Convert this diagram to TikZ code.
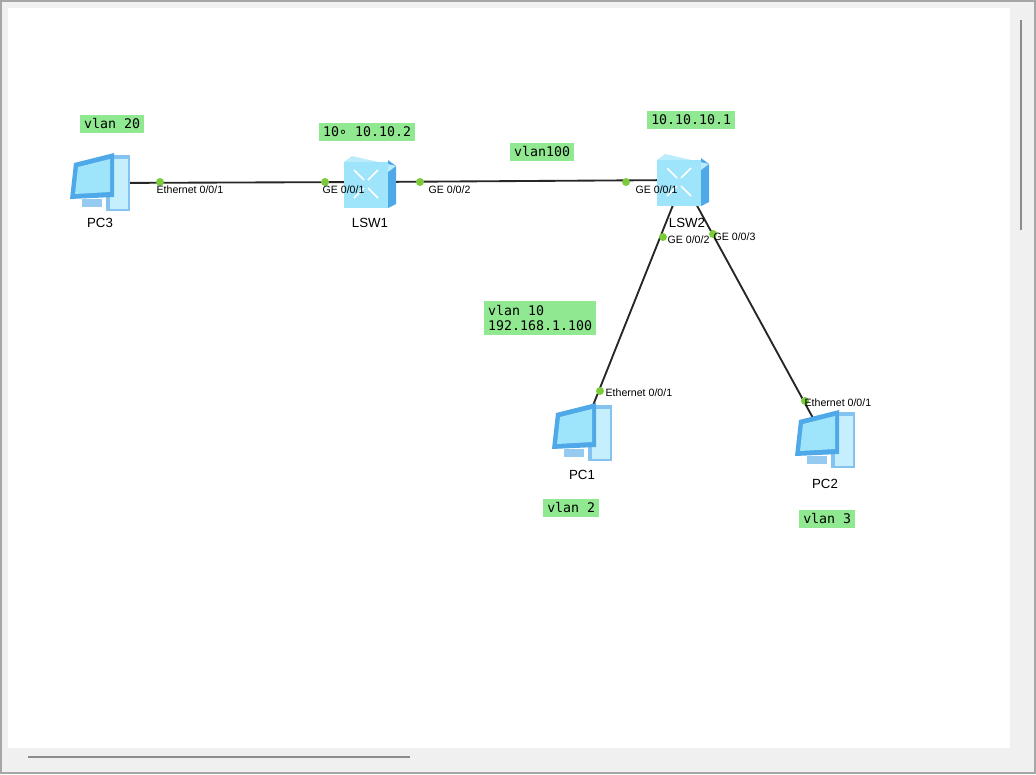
\documentclass[tikz,border=0pt]{standalone}
\usepackage{fontspec}
\setmainfont{Liberation Sans}
\newfontfamily\monofont{DejaVu Sans Mono}
\usetikzlibrary{positioning, calc, backgrounds}
\definecolor{tagbg}{HTML}{90E890}
\definecolor{portdot}{HTML}{7CCB3A}
\definecolor{iconblue}{HTML}{9EE4FA}
\definecolor{icondark}{HTML}{4FA8E8}

\begin{document}
\begin{tikzpicture}[x=0.0265cm, y=-0.0265cm,
        tag/.style={fill=tagbg, font=\monofont, inner sep=3pt, align=left},
        port/.style={font=\footnotesize, inner sep=1pt},
        dev/.style={font=\normalsize},
        dot/.style={circle, fill=portdot, inner sep=0pt, minimum size=6pt},
        link/.style={draw, line width=1.4pt, black!85},
        pc/.style={minimum width=62, minimum height=58, inner sep=0pt,
          path picture={
            \fill[icondark!70] ($(path picture bounding box.center)+(6,-28)$) rectangle ($(path picture bounding box.center)+(30,28)$);
            \fill[iconblue!60] ($(path picture bounding box.center)+(10,-24)$) rectangle ($(path picture bounding box.center)+(28,26)$);
            \fill[icondark] ($(path picture bounding box.center)+(-26,-20)$) -- ($(path picture bounding box.center)+(14,-30)$) -- ($(path picture bounding box.center)+(14,14)$) -- ($(path picture bounding box.center)+(-30,16)$) -- cycle;
            \fill[iconblue] ($(path picture bounding box.center)+(-22,-16)$) -- ($(path picture bounding box.center)+(10,-24)$) -- ($(path picture bounding box.center)+(10,9)$) -- ($(path picture bounding box.center)+(-25,11)$) -- cycle;
            \fill[icondark!60] ($(path picture bounding box.center)+(-18,16)$) rectangle ($(path picture bounding box.center)+(2,24)$);}},
        switch/.style={minimum width=56, minimum height=52, inner sep=0pt,
          path picture={
            \fill[icondark] ($(path picture bounding box.center)+(18,-22)$) -- ($(path picture bounding box.center)+(26,-16)$) -- ($(path picture bounding box.center)+(26,22)$) -- ($(path picture bounding box.center)+(18,26)$) -- cycle;
            \fill[iconblue!70] ($(path picture bounding box.center)+(-26,-20)$) -- ($(path picture bounding box.center)+(-18,-26)$) -- ($(path picture bounding box.center)+(26,-16)$) -- ($(path picture bounding box.center)+(18,-10)$) -- cycle;
            \fill[iconblue] ($(path picture bounding box.center)+(-26,-20)$) rectangle ($(path picture bounding box.center)+(18,26)$);
            \draw[white, line width=1.2pt] ($(path picture bounding box.center)+(-16,-12)$) -- ($(path picture bounding box.center)+(-6,-2)$)
              ($(path picture bounding box.center)+(8,-12)$) -- ($(path picture bounding box.center)+(-2,-2)$)
              ($(path picture bounding box.center)+(-16,16)$) -- ($(path picture bounding box.center)+(-6,6)$)
              ($(path picture bounding box.center)+(8,16)$) -- ($(path picture bounding box.center)+(-2,6)$);}}]

        % Devices
        \node [pc] (pc3) at (100,183) {};
        \node [switch] (lsw1) at (370,182) {};
        \node [switch] (lsw2) at (683,180) {};
        \node [pc] (pc1) at (582,433) {};
        \node [pc] (pc2) at (825,440) {};

        \node [dev] (pc3label) at (100,223) {PC3};
        \node [dev] (lsw1label) at (370,223) {LSW1};
        \node [dev] (lsw2label) at (687,223) {LSW2};
        \node [dev] (pc1label) at (582,475) {PC1};
        \node [dev] (pc2label) at (825,484) {PC2};

        % Window frame and links behind the icons
        \begin{scope}[on background layer]
        \fill[black!6] (0,0) rectangle (1036,774);
        \draw[black!35, line width=1pt] (1,1) rectangle (1035,773);
        \fill[white] (8,8) rectangle (1010,748);
        \draw[black!45, line width=2pt] (28,757) -- (410,757);
        \draw[black!45, line width=2pt] (1021,20) -- (1021,230);
        \path [link] (pc3.center) -- (lsw1.center);
        \path [link] (lsw1.center) -- (lsw2.center);
        \path [link] (lsw2.center) -- (pc1.center);
        \path [link] (lsw2.center) -- (pc2.center);
        \end{scope}
        \useasboundingbox (0,0) rectangle (1036,774);

        % Port dots
        \node [dot] (p3e) at (160,182) {};
        \node [dot] (s1a) at (325,182) {};
        \node [dot] (s1b) at (420,182) {};
        \node [dot] (s2a) at (626,182) {};
        \node [dot] (s2b) at (663,237) {};
        \node [dot] (s2c) at (713,234) {};
        \node [dot] (p1e) at (600,391) {};
        \node [dot] (p2e) at (805,401) {};

        % Port labels
        \node [port, anchor=west] at (155,190) {Ethernet 0/0/1};
        \node [port, anchor=west] at (321,190) {GE 0/0/1};
        \node [port, anchor=west] at (427,190) {GE 0/0/2};
        \node [port, anchor=west] at (634,190) {GE 0/0/1};
        \node [port, anchor=west] at (666,240) {GE 0/0/2};
        \node [port, anchor=west] at (712,237) {GE 0/0/3};
        \node [port, anchor=west] at (604,393) {Ethernet 0/0/1};
        \node [port, anchor=west] at (803,403) {Ethernet 0/0/1};

        % Tags
        \node [tag, anchor=west] (tag20) at (80,124) {vlan 20};
        \node [tag, anchor=west] (tagip2) at (319,132) {10∘ 10.10.2};
        \node [tag, anchor=west] (tag100) at (510,152) {vlan100};
        \node [tag, anchor=west] (tagip1) at (647,120) {10.10.10.1};
        \node [tag, anchor=west] (tag10) at (484,318) {vlan 10\\192.168.1.100};
        \node [tag, anchor=west] (tag2) at (543,508) {vlan 2};
        \node [tag, anchor=west] (tag3) at (799,519) {vlan 3};

\end{tikzpicture}
\end{document}
